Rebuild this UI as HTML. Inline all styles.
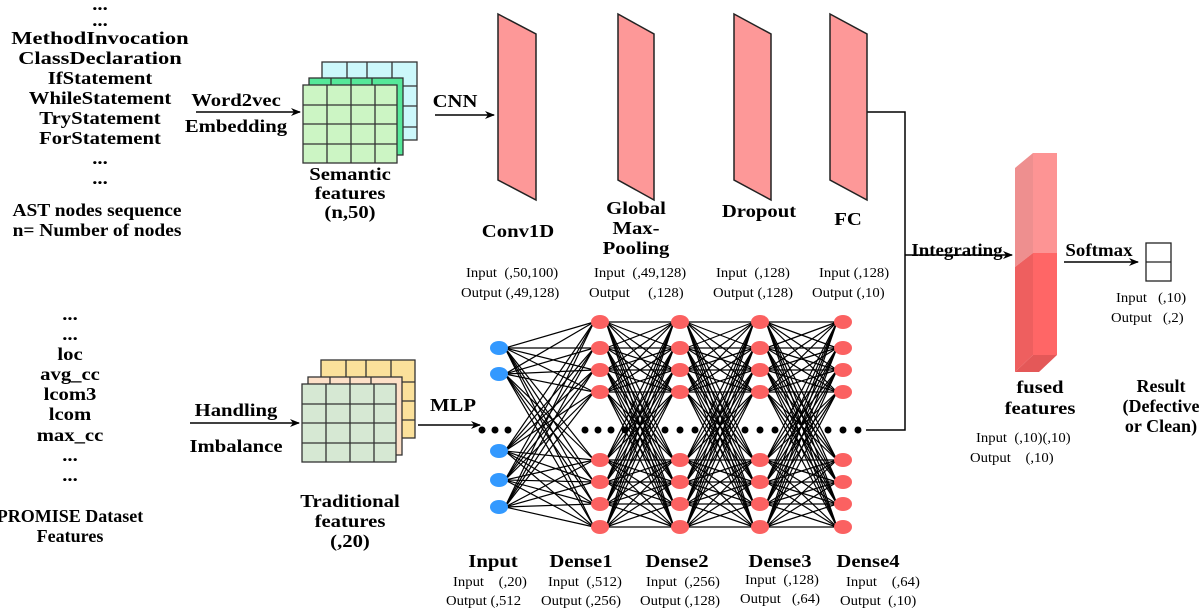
<!DOCTYPE html>
<html><head><meta charset="utf-8"><style>
html,body{margin:0;padding:0;background:#fff;}
svg text{font-family:"Liberation Serif",serif;white-space:pre;}
.b{font-weight:bold;font-size:18px;}
.s{font-size:14px;}
</style></head><body>
<svg id="s" width="1200" height="610" viewBox="0 0 1200 610" xmlns="http://www.w3.org/2000/svg" xml:space="preserve">
<defs><marker id="a" markerWidth="10" markerHeight="8" refX="9" refY="4" orient="auto" markerUnits="userSpaceOnUse"><path d="M0,0 L10,4 L0,8 L3,4 z" fill="#000"/></marker></defs>
<g class="b" text-anchor="middle">
<text x="100" y="10">...</text><text x="100" y="26">...</text>
<text x="100" y="44" data-k="1.25">MethodInvocation</text><text x="100" y="64" data-k="1.25">ClassDeclaration</text>
<text x="100" y="84">IfStatement</text><text x="100" y="104">WhileStatement</text>
<text x="100" y="124">TryStatement</text><text x="100" y="144">ForStatement</text>
<text x="100" y="164">...</text><text x="100" y="184">...</text>
<text x="97" y="216" data-k="1.08">AST nodes sequence</text><text x="97" y="236" data-k="1.08">n= Number of nodes</text>
<text x="70" y="320">...</text><text x="70" y="340">...</text>
<text x="70" y="360">loc</text><text x="70" y="380">avg_cc</text><text x="70" y="400">lcom3</text>
<text x="70" y="420">lcom</text><text x="70" y="441">max_cc</text>
<text x="70" y="461">...</text><text x="70" y="481">...</text>
<text x="70" y="522" data-k="1">PROMISE Dataset</text><text x="70" y="542" data-k="1">Features</text>
<text x="236" y="106">Word2vec</text><text x="236" y="132">Embedding</text>
<text x="236" y="416">Handling</text><text x="236" y="452">Imbalance</text>
<text x="455" y="107">CNN</text><text x="453" y="411">MLP</text>
<text x="350" y="180">Semantic</text><text x="350" y="199">features</text><text x="350" y="218">(n,50)</text>
<text x="350" y="507">Traditional</text><text x="350" y="527">features</text><text x="350" y="547">(,20)</text>
<text x="518" y="237">Conv1D</text>
<text x="636" y="214">Global</text><text x="636" y="234">Max-</text><text x="636" y="254">Pooling</text>
<text x="759" y="217">Dropout</text><text x="848" y="225">FC</text>
<text x="957" y="256" data-k="1.05">Integrating</text><text x="1099" y="256" data-k="1.05">Softmax</text>
<text x="1040" y="393">fused</text><text x="1040" y="414">features</text>
<text x="1161" y="392" data-k="1">Result</text><text x="1161" y="412" data-k="1">(Defective</text><text x="1161" y="432" data-k="1">or Clean)</text>
<text x="493" y="567">Input</text><text x="581" y="567">Dense1</text><text x="677" y="567">Dense2</text><text x="780" y="567">Dense3</text><text x="868" y="567">Dense4</text>
</g>
<g class="s">
<text x="466" y="277">Input  (,50,100)</text><text x="461" y="297">Output (,49,128)</text>
<text x="594" y="277">Input  (,49,128)</text><text x="589" y="297">Output     (,128)</text>
<text x="716" y="277">Input  (,128)</text><text x="713" y="297">Output (,128)</text>
<text x="819" y="277">Input (,128)</text><text x="812" y="297">Output (,10)</text>
<text x="1116" y="302">Input   (,10)</text><text x="1111" y="322">Output   (,2)</text>
<text x="976" y="442">Input  (,10)(,10)</text><text x="970" y="462">Output    (,10)</text>
<text x="453" y="586">Input    (,20)</text><text x="446" y="605">Output (,512</text>
<text x="548" y="586">Input  (,512)</text><text x="541" y="605">Output (,256)</text>
<text x="646" y="586">Input  (,256)</text><text x="640" y="605">Output (,128)</text>
<text x="745" y="584">Input  (,128)</text><text x="740" y="603">Output   (,64)</text>
<text x="846" y="586">Input    (,64)</text><text x="840" y="605">Output  (,10)</text>
</g>
<g stroke="#333" stroke-width="1.3">
<rect x="322" y="62" width="95" height="78" fill="#ccf8fb"/>
<rect x="309" y="78" width="94" height="77" fill="#55e899"/>
<rect x="303" y="85" width="94" height="78" fill="#ccf5c4"/>
<path d="M327 85V163M351 85V163M375 85V163M303 105H397M303 124H397M303 144H397" fill="none"/>
<path d="M347 62V78M367 62V78M392 62V78M403 86H417M403 106H417M403 127H417" fill="none"/>
<path d="M331 78V85M351 78V85M372 78V85"/>
<rect x="321" y="360" width="94" height="78" fill="#fbe19b"/>
<rect x="308" y="377" width="94" height="78" fill="#fde0c8"/>
<rect x="302" y="384" width="94" height="78" fill="#d6e8d3"/>
<path d="M326 384V462M350 384V462M374 384V462M302 404H396M302 423H396M302 443H396" fill="none"/>
<path d="M346 360V377M366 360V377M391 360V377M402 382H415M402 401H415M402 420H415"/>
<path d="M330 377V384M350 377V384M371 377V384"/>
</g>
<g stroke="#000" stroke-width="1.5" fill="none">
<line x1="196" y1="112" x2="300" y2="112" marker-end="url(#a)"/>
<line x1="190" y1="423" x2="299" y2="423" marker-end="url(#a)"/>
<line x1="435" y1="115" x2="494" y2="115" marker-end="url(#a)"/>
<line x1="418" y1="425" x2="480" y2="425" marker-end="url(#a)"/>
<polyline points="867,112 905,112 905,430 866,430"/>
<line x1="905" y1="255" x2="1012" y2="255" marker-end="url(#a)"/>
<line x1="1064" y1="262" x2="1138" y2="262" marker-end="url(#a)"/>
</g>
<g fill="#fd9898" stroke="#222" stroke-width="1.5">
<polygon points="498,14 536,34 536,200 498,180"/>
<polygon points="618,14 654,34 654,200 618,180"/>
<polygon points="734,14 771,34 771,200 734,180"/>
<polygon points="830,14 867,34 867,200 830,180"/>
</g>
<polygon points="1015,168 1033,153 1033,253 1015,267" fill="#ee8f8f"/>
<polygon points="1033,153 1057,153 1057,253 1033,253" fill="#fd9494"/>
<polygon points="1015,267 1033,253 1033,355 1015,372" fill="#ee5f5f"/>
<polygon points="1033,253 1057,253 1057,355 1033,355" fill="#ff6666"/>
<polygon points="1015,372 1033,355 1057,355 1039,372" fill="#e45858"/>
<rect x="1146" y="243" width="25" height="38" fill="#fff" stroke="#222" stroke-width="1.3"/>
<line x1="1146" y1="262" x2="1171" y2="262" stroke="#222" stroke-width="1.3"/>
<g id="net" stroke="#000" stroke-width="1.2"></g>
<g id="nodes"></g>
</svg>
<script>
var ns="http://www.w3.org/2000/svg";
var cols=[{x:499,ys:[348,374,451,480,507],c:"#3399ff"}];
var ry=[322,348,370,392,460,482,504,527];
[600,680,760,843].forEach(function(x){cols.push({x:x,ys:ry,c:"#fb6161"});});
var net=document.getElementById("net"),nd=document.getElementById("nodes");
for(var i=0;i<cols.length-1;i++){var A=cols[i],B=cols[i+1];
A.ys.forEach(function(y1){B.ys.forEach(function(y2){var l=document.createElementNS(ns,"line");
l.setAttribute("x1",A.x+6);l.setAttribute("y1",y1);l.setAttribute("x2",B.x-6);l.setAttribute("y2",y2);net.appendChild(l);});});}
cols.forEach(function(C){C.ys.forEach(function(y){var e=document.createElementNS(ns,"ellipse");
e.setAttribute("cx",C.x);e.setAttribute("cy",y);e.setAttribute("rx",9);e.setAttribute("ry",7);e.setAttribute("fill",C.c);nd.appendChild(e);});});
var dx=[482,495,508,585,598,611,625,665,680,695,745,760,775,828,843,858];
dx.forEach(function(x){var e=document.createElementNS(ns,"circle");e.setAttribute("cx",x);e.setAttribute("cy",430);e.setAttribute("r",3.5);nd.appendChild(e);});
document.querySelectorAll("text").forEach(function(t){var x=t.getAttribute("x");
var k=t.getAttribute("data-k");if(k)k=parseFloat(k);else k=t.parentNode.classList.contains("b")?1.15:1.05;
t.removeAttribute("data-k");
if(k!==1)t.setAttribute("transform","translate("+x+",0) scale("+k+",1) translate("+(-x)+",0)");});
</script>
</body></html>
